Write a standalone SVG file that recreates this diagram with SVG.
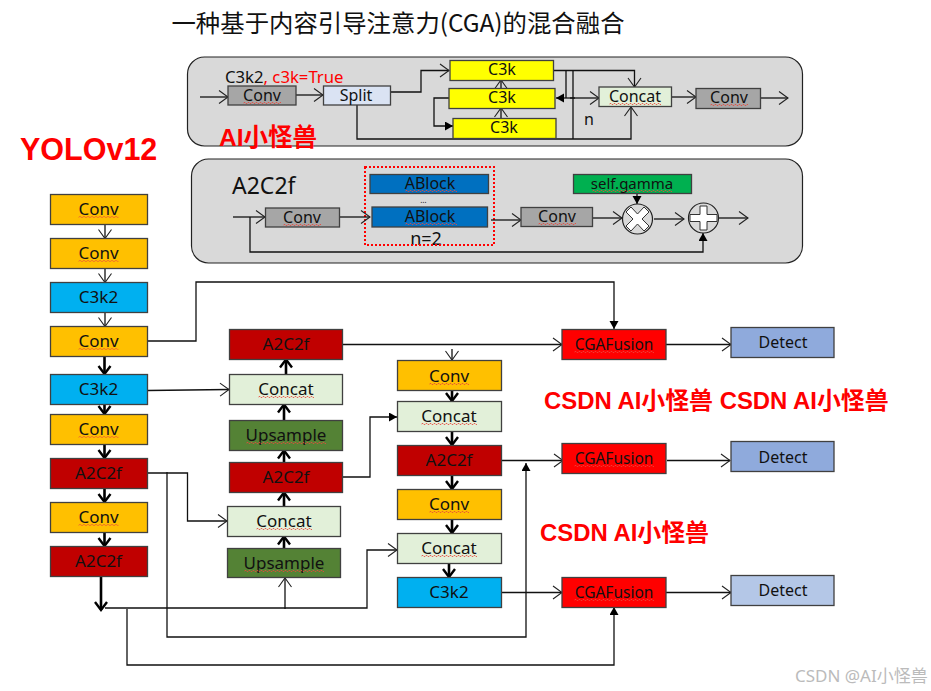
<svg xmlns="http://www.w3.org/2000/svg" width="931" height="691" viewBox="0 0 931 691">
<style>
text{font-family:"Noto Sans","Noto Sans CJK SC",sans-serif;fill:#111;text-anchor:middle}
.b{stroke:#404040;stroke-width:1.3}
.t{font-size:17px}
.s{font-size:16px}
.c{fill:none;stroke:#111;stroke-width:1.3}
.k{fill:none;stroke:#000;stroke-width:2.6}
.o{marker-end:url(#open)}
.f{marker-end:url(#fill)}
.h{marker-end:url(#bold)}
.r{font-family:"Liberation Sans","Noto Sans CJK SC",sans-serif;font-weight:bold;fill:#f00;text-anchor:start}
.conv{fill:#FFC000}.c3k2{fill:#00B0F0}.a2{fill:#C00000}.cat{fill:#E2F0D9}.up{fill:#548235}.cga{fill:#F00}.gray{fill:#A6A6A6}.c3k{fill:#FF0}.ab{fill:#0070C0}
</style>
<defs>
<marker id="open" markerUnits="userSpaceOnUse" markerWidth="14" markerHeight="16" refX="12" refY="8" orient="auto"><path d="M3 1.5L12 8L3 14.500" fill="none" stroke="#222" stroke-width="1.100"/></marker>
<marker id="bold" markerUnits="userSpaceOnUse" markerWidth="14" markerHeight="16" refX="11" refY="7" orient="auto"><path d="M3 1L11 7L3 13" fill="none" stroke="#000" stroke-width="2.400"/></marker>
<marker id="fill" markerUnits="userSpaceOnUse" markerWidth="10" markerHeight="10" refX="8" refY="4.500" orient="auto"><path d="M0 0L8 4.500L0 9Z" fill="#000"/></marker>
<pattern id="wavy" patternUnits="userSpaceOnUse" width="4" height="2"><path d="M0 1.500L1 .5L2 .5L3 1.500L4 1.500" fill="none" stroke="#e8453c" stroke-width=".8"/></pattern>
<rect id="q38" width="38" height="2" fill="url(#wavy)"/>
<rect id="q40" width="40" height="2" fill="url(#wavy)"/>
<rect id="q52" width="52" height="2" fill="url(#wavy)"/>
<rect id="q56" width="56" height="2" fill="url(#wavy)"/>
<rect id="q80" width="80" height="2" fill="url(#wavy)"/>
</defs>
<rect width="931" height="691" fill="#fff"/>
<text id="title" x="398" y="32" style="font-size:24.400px;font-family:'Noto Sans CJK SC','Noto Sans',sans-serif">一种基于内容引导注意力(CGA)的混合融合</text>
<text class="r" x="20" y="160" style="font-size:30.500px">YOLOv12</text>
<g id="panel-c3k2"><rect x="187.500" y="57" width="615" height="89" rx="17" fill="#D9D9D9" stroke="#222" stroke-width="1.200"/></g>
<g id="panel-a2c2f"><rect x="191.500" y="159" width="611" height="104" rx="17" fill="#D9D9D9" stroke="#222" stroke-width="1.200"/></g>
<text x="225" y="83" style="font-size:16.700px;text-anchor:start">C3k2<tspan fill="#f00">, c3k=True</tspan></text>
<text class="r" x="219" y="146" style="font-size:24.500px">AI小怪兽</text>
<text x="589" y="125" class="s">n</text>
<text x="232" y="194" style="font-size:23px;text-anchor:start">A2C2f</text>
<text x="425" y="202.500" style="font-size:8px;letter-spacing:3px">…</text>
<text x="426" y="245" style="font-size:18px">n=2</text>
<rect id="dotted-block" x="365" y="167" width="129" height="78" fill="none" stroke="#f00" stroke-width="2" stroke-dasharray="2 2"/>

<g id="connectors">
<path class="c o" d="M200 97H228"/>
<path class="c o" d="M296 95H323"/>
<path class="c o" d="M391 92H421V70.500H449"/>
<path class="c o" d="M357 105V139H631V107"/>
<path class="c o" d="M554 70.500H634.500V87"/>
<path class="c" d="M566 70.500V98M573 70.500V139"/>
<path class="c f" d="M575 98H556"/>
<path class="c o" d="M570 98H599"/>
<path class="c f" d="M450 98H434V126H453"/>
<path class="c o" d="M501 118V108"/>
<path class="c o" d="M501 88V80"/>
<path class="c o" d="M672 97H696"/>
<path class="c o" d="M761 98H788"/>
<path class="c o" d="M233 217H265"/>
<path class="c f" d="M250 217V252H703V233"/>
<path class="c o" d="M340 217H370"/>
<path class="c o" d="M491 220H521"/>
<path class="c o" d="M593 218H622"/>
<path class="c f" d="M637 193V204"/>
<path class="c o" d="M654 219H684"/>
<path class="c o" d="M719 218H748"/>
<path class="c o" d="M105 224.500V238.500"/>
<path class="c o" d="M105 268.500V282.500"/>
<path class="c o" d="M105 312.500V326.500"/>
<path class="k h" d="M104.500 357V374"/>
<path class="k h" d="M104.500 405V414"/>
<path class="k h" d="M104.500 445V458"/>
<path class="k h" d="M104.500 489V502"/>
<path class="k h" d="M104.500 533V546"/>
<path class="k h" d="M101 577V610"/>
<path class="c f" d="M147.500 341H196V282H614V329"/>
<path class="c o" d="M147.500 390.500L229 389.500"/>
<path class="c o" d="M147.500 473H187.500V521H227"/>
<path class="c f" d="M167 472V637H526V463"/>
<path class="c o" d="M105 608H367V550H397"/>
<path class="c o" d="M285 609V578"/>
<path class="c f" d="M127 609V665H614V607"/>
<path class="k h" d="M284 548V536.500"/>
<path class="k h" d="M284 506V492.500"/>
<path class="k h" d="M284 462V450.500"/>
<path class="k h" d="M284 420V404.500"/>
<path class="k h" d="M286 374V359.500"/>
<path class="c o" d="M342.500 344.500H562"/>
<path class="c o" d="M452 349V360"/>
<path class="c f" d="M342.500 477H370V417H397"/>
<path class="k h" d="M452 391V401"/>
<path class="k h" d="M452 432V445"/>
<path class="k h" d="M452 476V489"/>
<path class="k h" d="M452 520V533"/>
<path class="k h" d="M449 564V577"/>
<path class="c o" d="M501 460.500H563"/>
<path class="c o" d="M500 592.500H562"/>
<path class="c o" d="M666 344.500H731"/>
<path class="c o" d="M667 460.500H730"/>
<path class="c o" d="M666 592.500H731"/>
</g>

<g id="n1"><rect class="b gray" x="228" y="86" width="68" height="19"/><text class="s" x="262" y="101">Conv</text><use href="#q38" x="243" y="102"/></g>
<g id="n2"><rect class="b" fill="#DAE3F3" x="323.500" y="86" width="67" height="19"/><text class="s" x="356" y="101">Split</text></g>
<g id="n3"><rect class="b c3k" x="450" y="60.500" width="103.500" height="20"/><text class="s" x="502" y="75">C3k</text></g>
<g id="n4"><rect class="b c3k" x="449" y="88.500" width="106" height="20"/><text class="s" x="502" y="103">C3k</text></g>
<g id="n5"><rect class="b c3k" x="453" y="118.500" width="103" height="20"/><text class="s" x="504" y="133">C3k</text></g>
<g id="n6"><rect class="b cat" x="599" y="87" width="72.500" height="19.500"/><text class="s" x="635" y="102">Concat</text><use href="#q52" x="609" y="103"/></g>
<g id="n7"><rect class="b gray" x="696" y="88.500" width="64.500" height="20"/><text class="s" x="729" y="103">Conv</text><use href="#q38" x="710" y="104"/></g>

<g id="n8"><rect class="b gray" x="265.500" y="208" width="74" height="19"/><text class="s" x="302" y="223">Conv</text><use href="#q38" x="283" y="224"/></g>
<g id="n9"><rect class="b ab" x="370" y="174.500" width="118.500" height="19"/><text class="s" x="430" y="189">ABlock</text><use href="#q52" x="405" y="190"/></g>
<g id="n10"><rect class="b ab" x="372" y="207" width="115.500" height="20"/><text class="s" x="430" y="222">ABlock</text><use href="#q52" x="405" y="223"/></g>
<g id="n11"><rect class="b gray" x="521" y="207.500" width="71.500" height="19"/><text class="s" x="557" y="222">Conv</text><use href="#q38" x="538" y="223"/></g>
<g id="n12"><rect class="b" fill="#00B050" x="573.500" y="174.500" width="118" height="19"/><text x="632" y="189" style="font-size:15px">self.gamma</text><use href="#q80" x="592" y="190"/></g>
<g id="n13"><circle cx="637.500" cy="219" r="15" fill="#D9D9D9" stroke="#222" stroke-width="1.200"/><path d="M626 212L631 207L637.500 214L644 207L649 212L642 219L649 226L644 231L637.500 224L631 231L626 226L633 219Z" fill="#fff" stroke="#333"/></g>
<g id="n14"><circle cx="703.500" cy="218" r="15" fill="#D9D9D9" stroke="#222" stroke-width="1.200"/><path d="M700 206H707V214.500H717V221.500H707V230H700V221.500H690V214.500H700Z" fill="#fff" stroke="#333"/></g>

<g id="b1"><rect class="b conv" x="50.500" y="194.500" width="97" height="30"/><text class="t" x="98.500" y="215">Conv</text><use href="#q40" x="78.500" y="216"/></g>
<g id="b2"><rect class="b conv" x="50.500" y="238.500" width="97" height="30"/><text class="t" x="98.500" y="259">Conv</text><use href="#q40" x="78.500" y="260"/></g>
<g id="b3"><rect class="b c3k2" x="50.500" y="282.500" width="97" height="30"/><text class="t" x="98.500" y="303">C3k2</text></g>
<g id="b4"><rect class="b conv" x="50.500" y="326.500" width="97" height="30"/><text class="t" x="98.500" y="347">Conv</text><use href="#q40" x="78.500" y="348"/></g>
<g id="b5"><rect class="b c3k2" x="50.500" y="374.500" width="97" height="30"/><text class="t" x="98.500" y="395">C3k2</text></g>
<g id="b6"><rect class="b conv" x="50.500" y="414.500" width="97" height="30"/><text class="t" x="98.500" y="435">Conv</text><use href="#q40" x="78.500" y="436"/></g>
<g id="b7"><rect class="b a2" x="50.500" y="458.500" width="97" height="30"/><text class="t" x="98.500" y="479">A2C2f</text></g>
<g id="b8"><rect class="b conv" x="50.500" y="502.500" width="97" height="30"/><text class="t" x="98.500" y="523">Conv</text><use href="#q40" x="78.500" y="524"/></g>
<g id="b9"><rect class="b a2" x="50.500" y="546.500" width="97" height="30"/><text class="t" x="98.500" y="567">A2C2f</text></g>

<g id="m1"><rect class="b a2" x="229.500" y="329.500" width="113" height="30"/><text class="t" x="286" y="350">A2C2f</text></g>
<g id="m2"><rect class="b cat" x="229.500" y="374.500" width="113" height="30"/><text class="t" x="286" y="395">Concat</text><use href="#q56" x="258" y="396"/></g>
<g id="m3"><rect class="b up" x="229.500" y="420.500" width="113" height="30"/><text class="t" x="286" y="441">Upsample</text><use href="#q80" x="246" y="442"/></g>
<g id="m4"><rect class="b a2" x="229.500" y="462.500" width="113" height="30"/><text class="t" x="286" y="483">A2C2f</text></g>
<g id="m5"><rect class="b cat" x="227.500" y="506.500" width="113" height="30"/><text class="t" x="284" y="527">Concat</text><use href="#q56" x="256" y="528"/></g>
<g id="m6"><rect class="b up" x="227.500" y="548.500" width="113" height="29"/><text class="t" x="284" y="569">Upsample</text><use href="#q80" x="244" y="570"/></g>

<g id="r1"><rect class="b conv" x="397.500" y="360.500" width="104" height="30"/><text class="t" x="449" y="382">Conv</text><use href="#q40" x="429" y="383"/></g>
<g id="r2"><rect class="b cat" x="397.500" y="401.500" width="104" height="30"/><text class="t" x="449" y="422">Concat</text><use href="#q56" x="421" y="423"/></g>
<g id="r3"><rect class="b a2" x="397.500" y="445.500" width="104" height="30"/><text class="t" x="449" y="466">A2C2f</text></g>
<g id="r4"><rect class="b conv" x="397.500" y="489.500" width="104" height="30"/><text class="t" x="449" y="510">Conv</text><use href="#q40" x="429" y="511"/></g>
<g id="r5"><rect class="b cat" x="397.500" y="533.500" width="104" height="30"/><text class="t" x="449" y="554">Concat</text><use href="#q56" x="421" y="555"/></g>
<g id="r6"><rect class="b c3k2" x="397.500" y="577.500" width="104" height="30"/><text class="t" x="449" y="598">C3k2</text></g>

<g id="f1"><rect class="b cga" x="562" y="329.500" width="104" height="30"/><text x="614" y="350" style="font-size:15.500px">CGAFusion</text><use href="#q80" x="574" y="351"/></g>
<g id="f2"><rect class="b cga" x="562" y="443.500" width="104" height="30"/><text x="614" y="464" style="font-size:15.500px">CGAFusion</text><use href="#q80" x="574" y="465"/></g>
<g id="f3"><rect class="b cga" x="562" y="577.500" width="104" height="30"/><text x="614" y="598" style="font-size:15.500px">CGAFusion</text><use href="#q80" x="574" y="599"/></g>
<g id="d1"><rect class="b" fill="#8FAADC" x="731" y="327.500" width="103" height="30"/><text class="s" x="783" y="348">Detect</text></g>
<g id="d2"><rect class="b" fill="#8FAADC" x="731" y="441.500" width="103" height="30"/><text class="s" x="783" y="463">Detect</text></g>
<g id="d3"><rect class="b" fill="#B4C7E7" x="731" y="575.500" width="103" height="30"/><text class="s" x="783" y="596">Detect</text></g>

<text class="r" x="544" y="409" style="font-size:23.900px">CSDN AI小怪兽 CSDN AI小怪兽</text>
<text class="r" x="540" y="541" style="font-size:23.900px">CSDN AI小怪兽</text>
<text x="795" y="682" style="font-size:17px;text-anchor:start;fill:#bbb">CSDN @AI小怪兽</text>
</svg>
